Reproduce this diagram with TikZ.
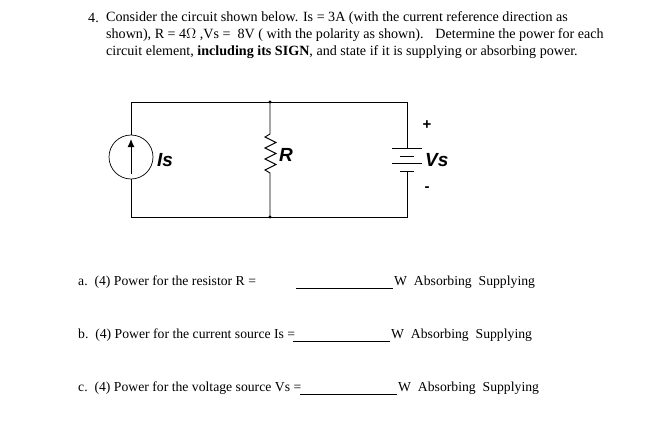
\documentclass[tikz,border=0pt]{standalone}
\usepackage{fontspec}
\usetikzlibrary{arrows.meta}
\setmainfont{Liberation Serif}
\newfontfamily\lab{Liberation Sans}
\begin{document}
\begin{tikzpicture}[x=1pt,y=-1pt,
  txt/.style={anchor=west,inner sep=0,font=\fontsize{14.1}{16}\selectfont},
  qtxt/.style={anchor=west,inner sep=0,font=\fontsize{13.7}{16}\selectfont},
  lbl/.style={anchor=west,inner sep=0,font=\lab\bfseries\itshape\fontsize{19}{20}\selectfont},
  wire/.style={line width=0.9pt}]
\useasboundingbox (0,0) rectangle (645,444);
\node[txt] (n4) at (88,18) {4.};
\node[txt] (l1) at (106,18) {Consider the circuit shown below. Is = 3A (with the current reference direction as};
\node[txt] (l2) at (106,35) {shown), R = 4$\Omega$ ,Vs = \ 8V ( with the polarity as shown). \ \ Determine the power for each};
\node[txt] (l3) at (106,52) {circuit element, \textbf{including its SIGN}, and state if it is supplying or absorbing power.};
% circuit
\coordinate (tl) at (131,102); \coordinate (tm) at (270,102); \coordinate (tr) at (407,102);
\coordinate (bl) at (131,217); \coordinate (bm) at (270,217); \coordinate (br) at (407,217);
\draw[wire] (bl) -- (tl) -- (tr) -- (407,148);
\draw[wire] (bl) -- (br) -- (407,171);
\coordinate (is) at (131,157);
\filldraw[line width=0.7pt,fill=white] (is) circle[radius=22pt];
\draw[line width=1pt,-{Latex[length=8pt,width=7pt]}] (131,174) -- (131,139);
\draw[wire] (tm) -- (270,134) -- ++(-5,3) -- ++(11,5.5) -- ++(-11,5.5) -- ++(11,5.5) -- ++(-11,5.5) -- ++(11,5.5) -- ++(-11,5.5) -- ++(5,3) -- (bm);
\fill (tm) circle[radius=1.6pt]; \fill (bm) circle[radius=1.6pt];
\draw[wire] (392,148) -- (422,148);
\draw[wire] (400,156) -- (414,156);
\draw[wire] (392,163) -- (422,163);
\draw[wire] (400,171) -- (414,171);
\node[lbl] (lis) at (157,160) {Is};
\node[lbl] (lr) at (279,155) {R};
\node[lbl] (lvs) at (425,160) {Vs};
\node[font=\lab\bfseries\fontsize{15}{16}\selectfont,inner sep=0] (plus) at (427,125) {+};
\node[font=\lab\bfseries\fontsize{15}{16}\selectfont,inner sep=0] (minus) at (427,189) {-};
% questions
\node[qtxt] (qa) at (78,282) {a.\ \ (4) Power for the resistor R =};
\node[qtxt] (qb) at (78,335) {b.\ \ (4) Power for the current source Is =};
\node[qtxt] (qc) at (78,388) {c.\ \ (4) Power for the voltage source Vs =};
\draw[line width=0.6pt] (296,288) -- (393,288);
\draw[line width=0.6pt] (293,341) -- (390,341);
\draw[line width=0.6pt] (300,394) -- (397,394);
\node[qtxt] (aa) at (394,282) {W \ Absorbing \ Supplying};
\node[qtxt] (ab) at (391,335) {W \ Absorbing \ Supplying};
\node[qtxt] (ac) at (398,388) {W \ Absorbing \ Supplying};
\end{tikzpicture}
\end{document}
